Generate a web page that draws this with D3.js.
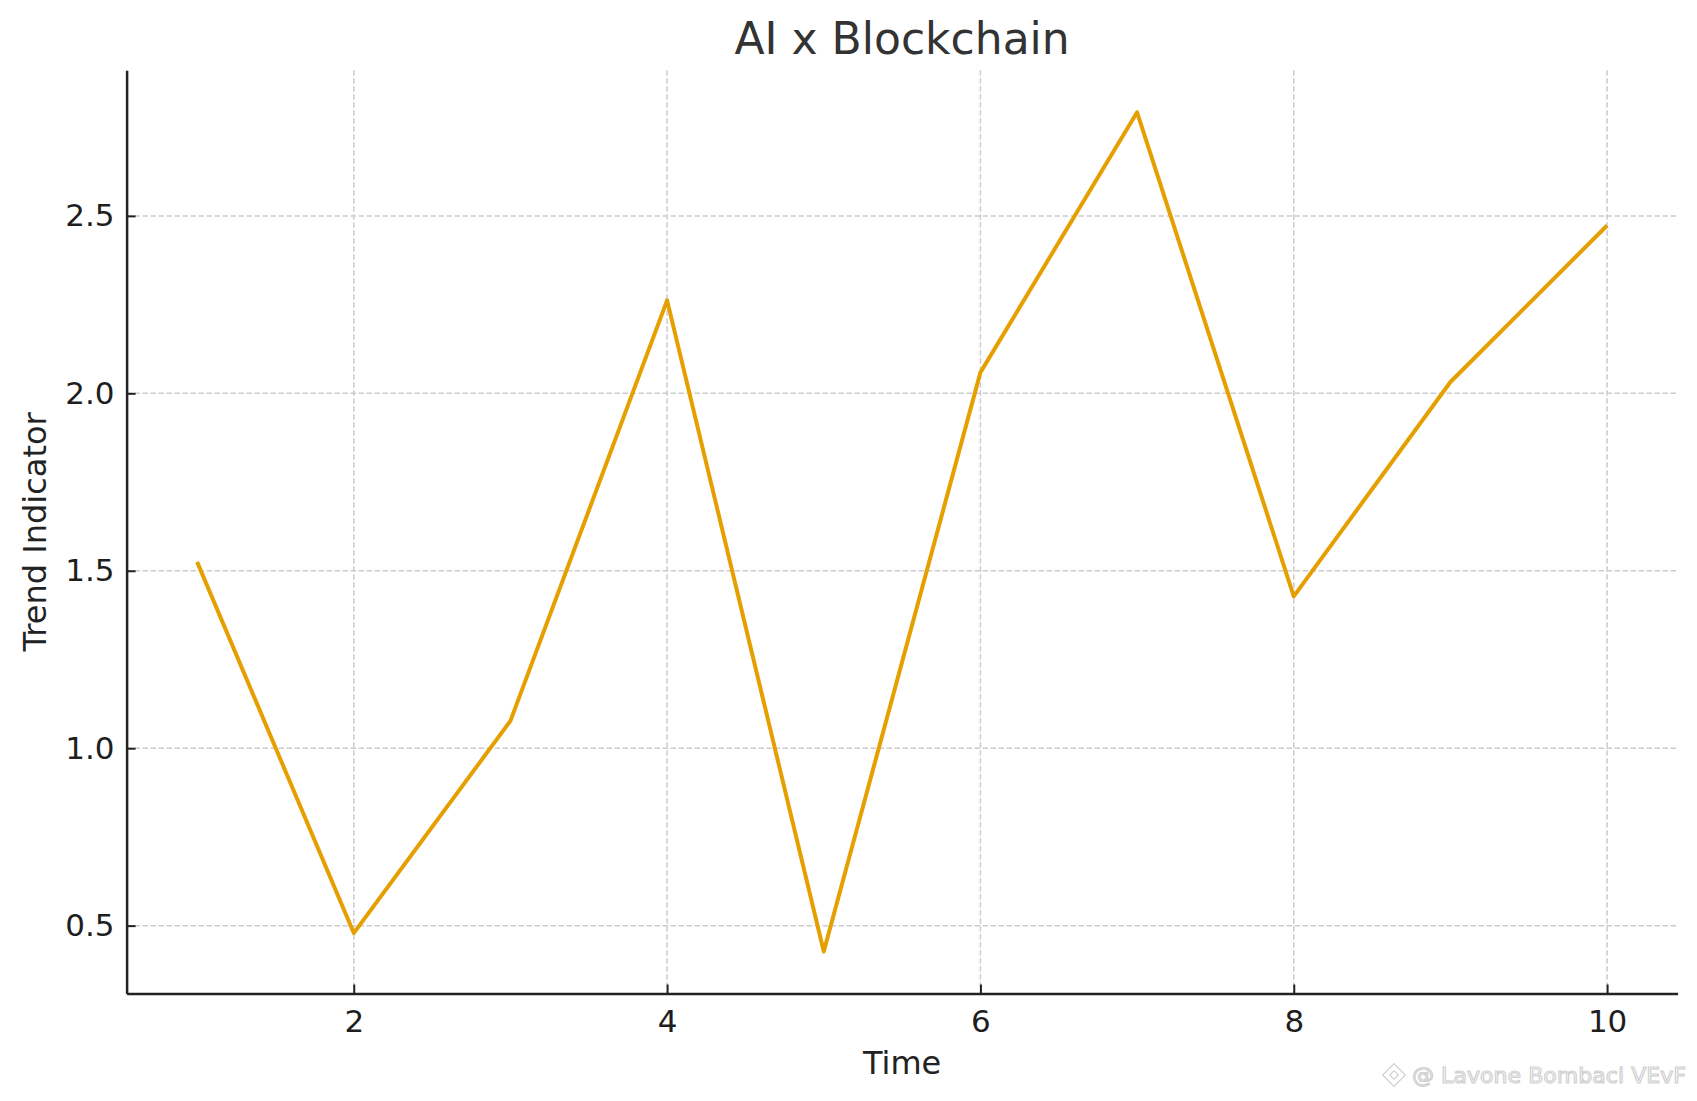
<!DOCTYPE html>
<html>
<head>
<meta charset="utf-8">
<script src="https://cdn.jsdelivr.net/npm/d3@7"></script>
<style>
  body { margin: 0; background: #fff; }
  svg { display: block; font-family: "DejaVu Sans", sans-serif; }
</style>
</head>
<body>
<script>
// data
const time = [1, 2, 3, 4, 5, 6, 7, 8, 9, 10];
const trend = [1.525, 0.479, 1.077, 2.262, 0.427, 2.059, 2.792, 1.428, 2.032, 2.473];
const xTicks = [2, 4, 6, 8, 10];
const yTicks = [0.5, 1.0, 1.5, 2.0, 2.5];
const title = "AI x Blockchain";
const xLabel = "Time";
const yLabel = "Trend Indicator";
const watermark = "@ Lavone Bombaci VEvF";

const w = 1697;
const h = 1101;
const margin = {top: 70.3, right: 19.4, bottom: 107.5, left: 126.6};

const svg = d3.select("body")
  .append("svg")
  .attr("width", w)
  .attr("height", h);

// matplotlib style 5% padding around the data
const xPad = (d3.max(time) - d3.min(time)) * 0.05;
const yPad = (d3.max(trend) - d3.min(trend)) * 0.05;

const xScale = d3.scaleLinear()
  .domain([d3.min(time) - xPad, d3.max(time) + xPad])
  .range([margin.left, w - margin.right]);
const yScale = d3.scaleLinear()
  .domain([d3.min(trend) - yPad, d3.max(trend) + yPad])
  .range([h - margin.bottom, margin.top]);

// grid
const grid = svg.append("g")
  .attr("stroke", "#cccccc")
  .attr("stroke-width", 1.5)
  .attr("stroke-dasharray", "5.5,2.5");
grid.selectAll("line.gx")
  .data(xTicks)
  .join("line")
  .attr("class", "gx")
  .attr("x1", d => xScale(d)).attr("x2", d => xScale(d))
  .attr("y1", margin.top).attr("y2", h - margin.bottom);
grid.selectAll("line.gy")
  .data(yTicks)
  .join("line")
  .attr("class", "gy")
  .attr("x1", margin.left).attr("x2", w - margin.right)
  .attr("y1", d => yScale(d)).attr("y2", d => yScale(d));

// axes (ticks point inward like the original)
const xAxis = d3.axisBottom(xScale)
  .tickValues(xTicks)
  .tickSizeInner(-9)
  .tickSizeOuter(0)
  .tickPadding(9)
  .tickFormat(d3.format("d"));
const yAxis = d3.axisLeft(yScale)
  .tickValues(yTicks)
  .tickSizeInner(-9)
  .tickSizeOuter(0)
  .tickPadding(12)
  .tickFormat(d3.format(".1f"));

const gx = svg.append("g")
  .attr("transform", "translate(0," + (h - margin.bottom) + ")")
  .call(xAxis);
const gy = svg.append("g")
  .attr("transform", "translate(" + margin.left + ",0)")
  .call(yAxis);

[gx, gy].forEach(g => {
  g.select(".domain").attr("stroke", "#222").attr("stroke-width", 2.5);
  g.selectAll(".tick line").attr("stroke", "#222").attr("stroke-width", 2);
  g.selectAll(".tick text")
    .attr("fill", "#1e1e1e")
    .style("font-size", "31px")
    .style("font-family", "DejaVu Sans");
});
gx.selectAll(".tick text").attr("dy", "0.95em");

// the line
svg.append("path")
  .datum(time.map((t, i) => [t, trend[i]]))
  .attr("fill", "none")
  .attr("stroke", "#E69F00")
  .attr("stroke-width", 4)
  .attr("stroke-linejoin", "round")
  .attr("d", d3.line()
    .x(d => xScale(d[0]))
    .y(d => yScale(d[1])));

// texts
const midX = (margin.left + w - margin.right) / 2;
const midY = (margin.top + h - margin.bottom) / 2;

svg.append("text")
  .attr("x", midX)
  .attr("y", 53.5)
  .attr("text-anchor", "middle")
  .attr("fill", "#333")
  .style("font-size", "44px")
  .text(title);

svg.append("text")
  .attr("x", midX)
  .attr("y", 1074)
  .attr("text-anchor", "middle")
  .attr("fill", "#222")
  .style("font-size", "32px")
  .text(xLabel);

svg.append("text")
  .attr("transform", "translate(46," + midY + ") rotate(-90)")
  .attr("text-anchor", "middle")
  .attr("fill", "#222")
  .style("font-size", "32px")
  .text(yLabel);

// watermark in the corner
const wm = svg.append("g")
  .attr("transform", "translate(1394,1075)")
  .attr("fill", "#fff")
  .attr("stroke", "#d0d0d0")
  .attr("stroke-width", 1.2);
wm.append("rect")
  .attr("x", -8).attr("y", -8)
  .attr("width", 16).attr("height", 16)
  .attr("transform", "rotate(45)");
wm.append("rect")
  .attr("x", -3).attr("y", -3)
  .attr("width", 6).attr("height", 6)
  .attr("transform", "rotate(45)");
wm.append("text")
  .attr("x", 18)
  .attr("y", 8)
  .attr("textLength", 274)
  .style("font-size", "22px")
  .style("font-family", "DejaVu Sans")
  .text(watermark);
</script>
</body>
</html>
